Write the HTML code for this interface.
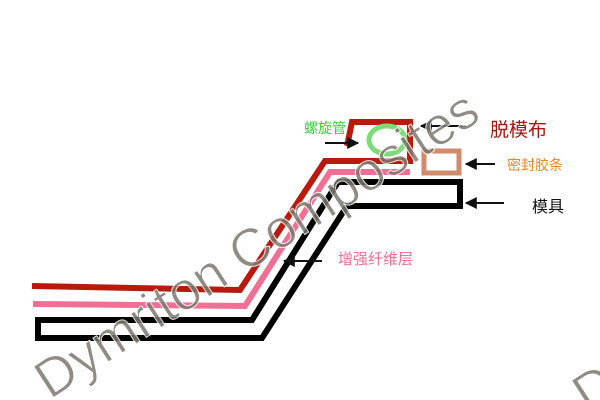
<!DOCTYPE html>
<html><head><meta charset="utf-8"><style>
html,body{margin:0;padding:0;background:#fff;width:600px;height:400px;overflow:hidden}
svg{display:block}
</style></head><body>
<svg width="600" height="400" xmlns="http://www.w3.org/2000/svg" font-family="Liberation Sans, Noto Sans CJK SC, sans-serif" overflow="hidden">
<defs><marker id="a" viewBox="0 0 10 10" refX="9" refY="5" markerWidth="6" markerHeight="6" orient="auto"><path d="M0,0L10,5L0,10z" fill="#111"/></marker></defs>
<polygon points="38,320 252,320 338,182 460,182 460,206 347,206 262,338 38,338" fill="none" stroke="#000" stroke-width="6"/>
<polyline points="33,304 245,306 330,172 410,172" fill="none" stroke="#ef6f95" stroke-width="6"/>
<polyline points="32,286 240,290 325,161 410,161 410,122 352,122 347,146" fill="none" stroke="#b81a0e" stroke-width="6"/>
<ellipse cx="387" cy="140" rx="18" ry="14" fill="none" stroke="#7ddc77" stroke-width="5"/>
<rect x="424" y="151" width="35" height="22" fill="none" stroke="#d18a6a" stroke-width="5"/>
<g stroke="#111" stroke-width="2" marker-end="url(#a)">
<line x1="466" y1="126" x2="421" y2="126"/>
<line x1="495" y1="164" x2="466" y2="164"/>
<line x1="504" y1="203" x2="466" y2="203"/>
<line x1="325" y1="143" x2="358" y2="143"/>
<line x1="322" y1="261" x2="284" y2="261"/>
</g>
<text x="304" y="133" font-size="14" fill="#3ccc3c">螺旋管</text>
<text x="490" y="136" font-size="19" fill="#a11a10">脱模布</text>
<text x="507" y="170" font-size="14" fill="#e8882a">密封胶条</text>
<text x="532" y="212" font-size="16" fill="#111">模具</text>
<text x="338" y="264" font-size="15" fill="#ef6f95">增强纤维层</text>
<text transform="translate(50,400) rotate(-33)" font-size="54" fill="#7d786f" stroke="#fff" stroke-width="1" opacity="0.85">Dymriton Composites</text>
<text transform="translate(588,414) rotate(-33)" font-size="54" fill="#7d786f" stroke="#fff" stroke-width="1" opacity="0.85">D</text>
</svg>
</body></html>
